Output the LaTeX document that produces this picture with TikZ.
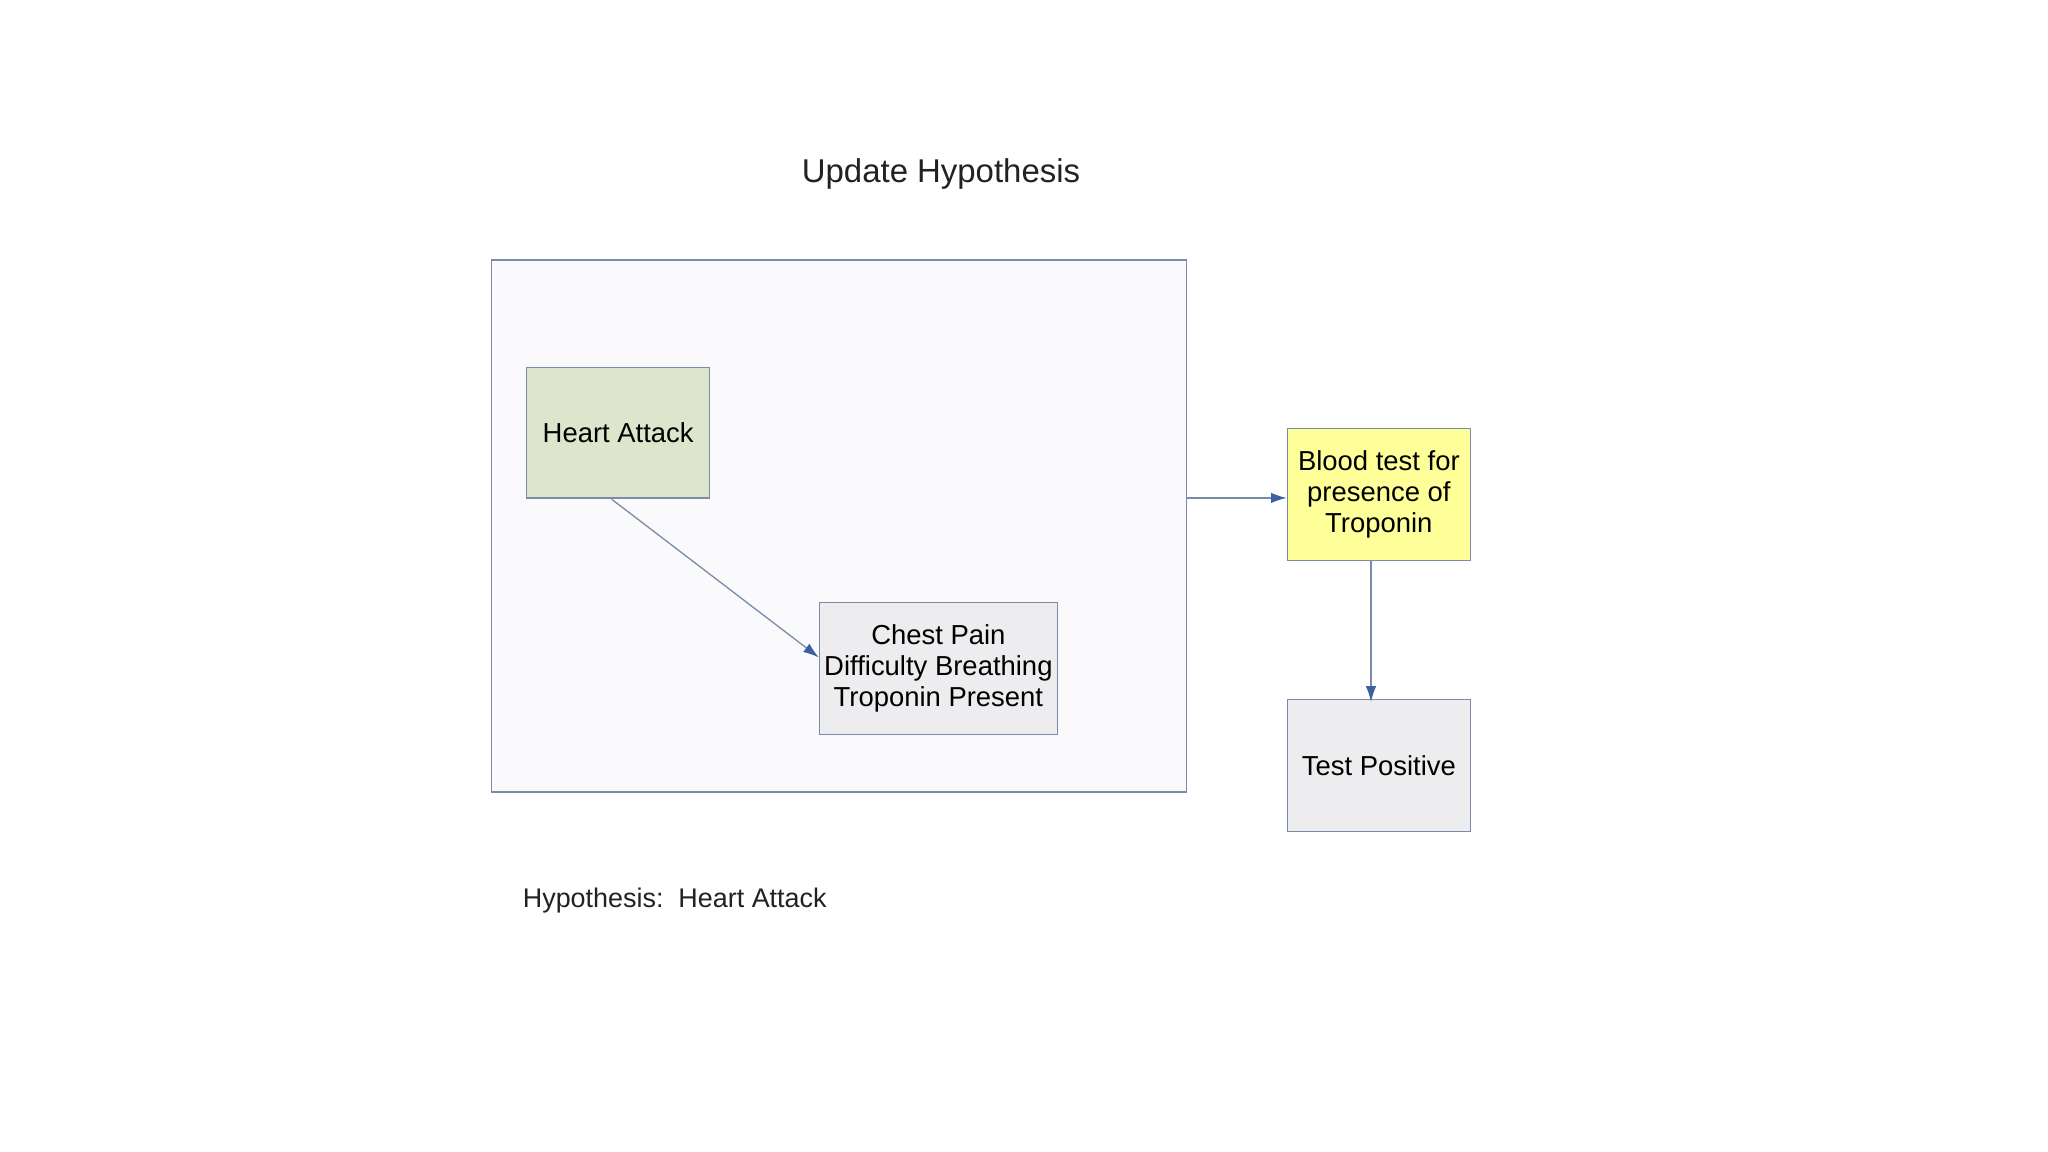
\documentclass[tikz,border=0pt]{standalone}
\usepackage{fontspec}
\setmainfont{Liberation Sans}
\usetikzlibrary{arrows.meta}
\definecolor{edge}{HTML}{7A8CA8}
\definecolor{arr}{HTML}{3A62A0}
\definecolor{green1}{HTML}{DDE6CD}
\definecolor{grey1}{HTML}{EDEDEF}
\definecolor{yel}{HTML}{FFFF99}
\definecolor{txt}{HTML}{222222}
\begin{document}
\begin{tikzpicture}[x=0.5pt,y=-0.5pt,
  box/.style={draw=edge,line width=0.5pt,inner sep=0pt,align=center,font=\fontsize{10.5}{11.8}\selectfont},
  conn/.style={draw=edge,line width=0.5pt,-{Latex[length=6pt,width=4pt,fill=arr,color=arr]}}]
\useasboundingbox (0,0) rectangle (1567,881.4);
\fill[white] (0,0) rectangle (1567,881.4);
\node (title) at (720,133) {\fontsize{12.6}{14}\selectfont\color{txt}Update Hypothesis};
\draw[edge,fill={rgb,255:red,250;green,250;blue,252},line width=0.5pt] (376,199) rectangle (908,606);
\coordinate (outerR) at (908,381);
\node[box,fill=green1,minimum width=70pt,minimum height=50pt] (ha) at (473,331) {Heart Attack};
\node[box,fill=grey1,minimum width=91pt,minimum height=50.5pt] (cp) at (718,511.5) {Chest Pain\\Difficulty Breathing\\Troponin Present};
\node[box,fill=yel,minimum width=70pt,minimum height=50.5pt] (bt) at (1055,378.5) {Blood test for\\presence of\\Troponin};
\node[box,fill=grey1,minimum width=70pt,minimum height=50.5pt] (tp) at (1055,585.5) {Test Positive};
\draw[conn] (468,382) -- (cp.west|-0,503);
\draw[conn] (outerR) -- (bt.west|-outerR);
\draw[conn] (1049,429.5) -- (1049,537);
\node[anchor=west] (hyp) at (393,689) {\fontsize{10.3}{12}\selectfont\color{txt}Hypothesis:\ \ Heart Attack};
\end{tikzpicture}
\end{document}
